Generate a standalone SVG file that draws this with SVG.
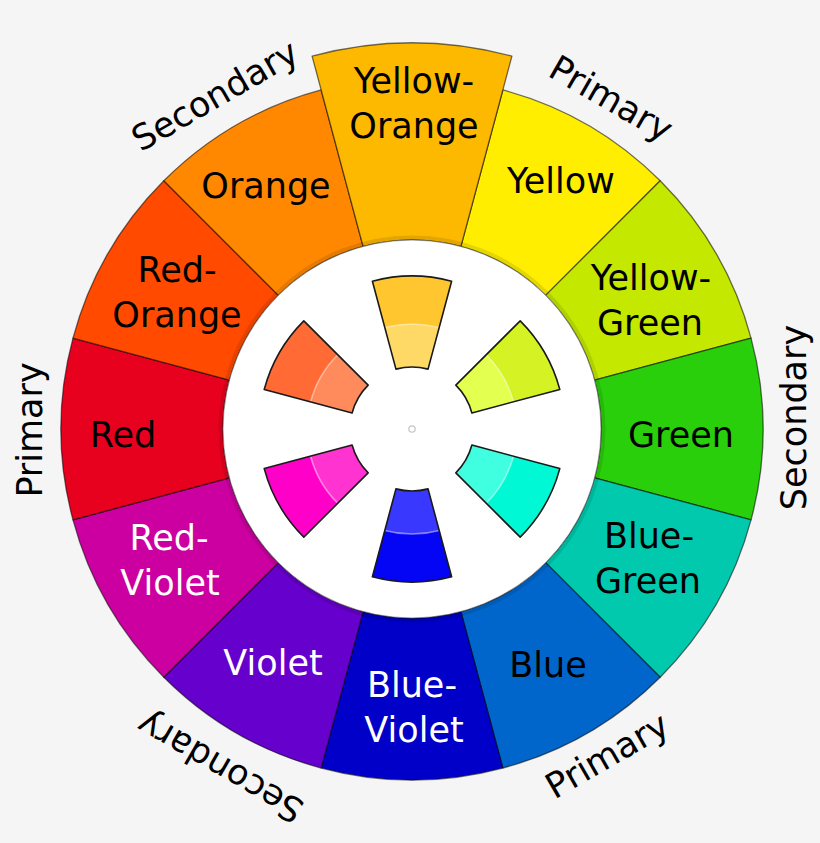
<svg xmlns="http://www.w3.org/2000/svg" width="820" height="843" viewBox="0 0 820 843">
  <style>
    .seg { stroke: #000; stroke-opacity: 0.55; stroke-width: 1.3; stroke-linejoin: round; }
    .lbl { font-family: "DejaVu Sans", Verdana, sans-serif; font-size: 35px; text-anchor: middle; fill: #000; }
    .wht { fill: #fff; }
    .cap { font-family: "DejaVu Sans", Verdana, sans-serif; font-size: 35px; text-anchor: middle; fill: #000; }
    .wo { fill: none; stroke: #1a1a1a; stroke-width: 1.6; stroke-linejoin: round; }
    .hl { fill: none; stroke: #fff; stroke-opacity: 0.45; stroke-width: 1.6; }
  </style>
  <rect x="0" y="0" width="820" height="843" fill="#f5f5f5"/>

  <g id="ring">
    <g id="seg-yellow"><path class="seg" fill="#ffee00" d="M502.85,89.96 A351,351 0 0 1 660.19,180.81 L545.64,295.36 A189,189 0 0 0 460.92,246.44 Z"/></g>
    <g id="seg-yellow-green"><path class="seg" fill="#c4e800" d="M660.19,180.81 A351,351 0 0 1 751.04,338.15 L594.56,380.08 A189,189 0 0 0 545.64,295.36 Z"/></g>
    <g id="seg-green"><path class="seg" fill="#2acf0b" d="M751.04,338.15 A351,351 0 0 1 751.04,519.85 L594.56,477.92 A189,189 0 0 0 594.56,380.08 Z"/></g>
    <g id="seg-blue-green"><path class="seg" fill="#00c9ae" d="M751.04,519.85 A351,351 0 0 1 660.19,677.19 L545.64,562.64 A189,189 0 0 0 594.56,477.92 Z"/></g>
    <g id="seg-blue"><path class="seg" fill="#0066cc" d="M660.19,677.19 A351,351 0 0 1 502.85,768.04 L460.92,611.56 A189,189 0 0 0 545.64,562.64 Z"/></g>
    <g id="seg-blue-violet"><path class="seg" fill="#0000c8" d="M502.85,768.04 A351,351 0 0 1 321.15,768.04 L363.08,611.56 A189,189 0 0 0 460.92,611.56 Z"/></g>
    <g id="seg-violet"><path class="seg" fill="#6600cc" d="M321.15,768.04 A351,351 0 0 1 163.81,677.19 L278.36,562.64 A189,189 0 0 0 363.08,611.56 Z"/></g>
    <g id="seg-red-violet"><path class="seg" fill="#cc00a0" d="M163.81,677.19 A351,351 0 0 1 72.96,519.85 L229.44,477.92 A189,189 0 0 0 278.36,562.64 Z"/></g>
    <g id="seg-red"><path class="seg" fill="#e8001f" d="M72.96,519.85 A351,351 0 0 1 72.96,338.15 L229.44,380.08 A189,189 0 0 0 229.44,477.92 Z"/></g>
    <g id="seg-red-orange"><path class="seg" fill="#ff4a00" d="M72.96,338.15 A351,351 0 0 1 163.81,180.81 L278.36,295.36 A189,189 0 0 0 229.44,380.08 Z"/></g>
    <g id="seg-orange"><path class="seg" fill="#ff8800" d="M163.81,180.81 A351,351 0 0 1 321.15,89.96 L363.08,246.44 A189,189 0 0 0 278.36,295.36 Z"/></g>
    <g id="seg-yellow-orange"><path class="seg" fill="#fdb800" d="M312.09,56.15 A386,386 0 0 1 511.91,56.15 L460.92,246.44 A189,189 0 0 0 363.08,246.44 Z"/></g>
  </g>

  <g id="hub">
    <circle cx="412" cy="429" r="191" fill="none" stroke="#000" stroke-opacity="0.1" stroke-width="5"/>
    <circle cx="412" cy="429" r="189" fill="#ffffff" stroke="#555" stroke-opacity="0.6" stroke-width="1"/>
    <circle cx="412" cy="429" r="3.2" fill="none" stroke="#c4c4c4" stroke-width="1.2"/>
  </g>

  <g id="wedge-top">
    <path fill="#ffd966" d="M372.40,281.21 A153,153 0 0 1 451.60,281.21 L428.05,369.11 A62,62 0 0 0 395.95,369.11 Z"/>
    <path fill="#ffc630" d="M372.40,281.21 A153,153 0 0 1 451.60,281.21 L439.18,327.58 A105,105 0 0 0 384.82,327.58 Z"/>
    <path class="hl" d="M384.82,327.58 A105,105 0 0 1 439.18,327.58"/>
    <path class="wo" d="M372.40,281.21 A153,153 0 0 1 451.60,281.21 L428.05,369.11 A62,62 0 0 0 395.95,369.11 Z"/>
  </g>
  <g id="wedge-upper-right">
    <path fill="#e3ff50" d="M520.19,320.81 A153,153 0 0 1 559.79,389.40 L471.89,412.95 A62,62 0 0 0 455.84,385.16 Z"/>
    <path fill="#d5f224" d="M520.19,320.81 A153,153 0 0 1 559.79,389.40 L513.42,401.82 A105,105 0 0 0 486.25,354.75 Z"/>
    <path class="hl" d="M486.25,354.75 A105,105 0 0 1 513.42,401.82"/>
    <path class="wo" d="M520.19,320.81 A153,153 0 0 1 559.79,389.40 L471.89,412.95 A62,62 0 0 0 455.84,385.16 Z"/>
  </g>
  <g id="wedge-lower-right">
    <path fill="#40ffe0" d="M559.79,468.60 A153,153 0 0 1 520.19,537.19 L455.84,472.84 A62,62 0 0 0 471.89,445.05 Z"/>
    <path fill="#00f8d4" d="M559.79,468.60 A153,153 0 0 1 520.19,537.19 L486.25,503.25 A105,105 0 0 0 513.42,456.18 Z"/>
    <path class="hl" d="M513.42,456.18 A105,105 0 0 1 486.25,503.25"/>
    <path class="wo" d="M559.79,468.60 A153,153 0 0 1 520.19,537.19 L455.84,472.84 A62,62 0 0 0 471.89,445.05 Z"/>
  </g>
  <g id="wedge-bottom">
    <path fill="#3838ff" d="M451.60,576.79 A153,153 0 0 1 372.40,576.79 L395.95,488.89 A62,62 0 0 0 428.05,488.89 Z"/>
    <path fill="#0505f5" d="M451.60,576.79 A153,153 0 0 1 372.40,576.79 L384.82,530.42 A105,105 0 0 0 439.18,530.42 Z"/>
    <path class="hl" d="M439.18,530.42 A105,105 0 0 1 384.82,530.42"/>
    <path class="wo" d="M451.60,576.79 A153,153 0 0 1 372.40,576.79 L395.95,488.89 A62,62 0 0 0 428.05,488.89 Z"/>
  </g>
  <g id="wedge-lower-left">
    <path fill="#ff33d0" d="M303.81,537.19 A153,153 0 0 1 264.21,468.60 L352.11,445.05 A62,62 0 0 0 368.16,472.84 Z"/>
    <path fill="#ff00c8" d="M303.81,537.19 A153,153 0 0 1 264.21,468.60 L310.58,456.18 A105,105 0 0 0 337.75,503.25 Z"/>
    <path class="hl" d="M337.75,503.25 A105,105 0 0 1 310.58,456.18"/>
    <path class="wo" d="M303.81,537.19 A153,153 0 0 1 264.21,468.60 L352.11,445.05 A62,62 0 0 0 368.16,472.84 Z"/>
  </g>
  <g id="wedge-upper-left">
    <path fill="#ff8a5c" d="M264.21,389.40 A153,153 0 0 1 303.81,320.81 L368.16,385.16 A62,62 0 0 0 352.11,412.95 Z"/>
    <path fill="#ff6a35" d="M264.21,389.40 A153,153 0 0 1 303.81,320.81 L337.75,354.75 A105,105 0 0 0 310.58,401.82 Z"/>
    <path class="hl" d="M310.58,401.82 A105,105 0 0 1 337.75,354.75"/>
    <path class="wo" d="M264.21,389.40 A153,153 0 0 1 303.81,320.81 L368.16,385.16 A62,62 0 0 0 352.11,412.95 Z"/>
  </g>

  <g id="segment-labels">
    <text class="lbl" x="414" y="93">Yellow-</text>
    <text class="lbl" x="414" y="138">Orange</text>
    <text class="lbl" x="561" y="193">Yellow</text>
    <text class="lbl" x="651" y="290">Yellow-</text>
    <text class="lbl" x="650" y="335">Green</text>
    <text class="lbl" x="681" y="447">Green</text>
    <text class="lbl" x="649" y="548">Blue-</text>
    <text class="lbl" x="648" y="593">Green</text>
    <text class="lbl" x="548" y="677">Blue</text>
    <text class="lbl wht" x="412" y="697">Blue-</text>
    <text class="lbl wht" x="414" y="742">Violet</text>
    <text class="lbl wht" x="273" y="675">Violet</text>
    <text class="lbl wht" x="169" y="550">Red-</text>
    <text class="lbl wht" x="170" y="595">Violet</text>
    <text class="lbl" x="123" y="447">Red</text>
    <text class="lbl" x="177" y="282">Red-</text>
    <text class="lbl" x="177" y="327">Orange</text>
    <text class="lbl" x="266" y="198">Orange</text>
  </g>

  <g id="outer-labels">
    <text class="cap" x="221" y="106" transform="rotate(-30 221 106)">Secondary</text>
    <text class="cap" x="605" y="109" transform="rotate(30 605 109)">Primary</text>
    <text class="cap" x="806" y="417.5" transform="rotate(-90 806 417.5)">Secondary</text>
    <text class="cap" x="613" y="766" transform="rotate(-30 613 766)">Primary</text>
    <text class="cap" x="226" y="757" transform="rotate(210 226 757)">Secondary</text>
    <text class="cap" x="41.7" y="430" transform="rotate(-90 41.7 430)">Primary</text>
  </g>
</svg>
